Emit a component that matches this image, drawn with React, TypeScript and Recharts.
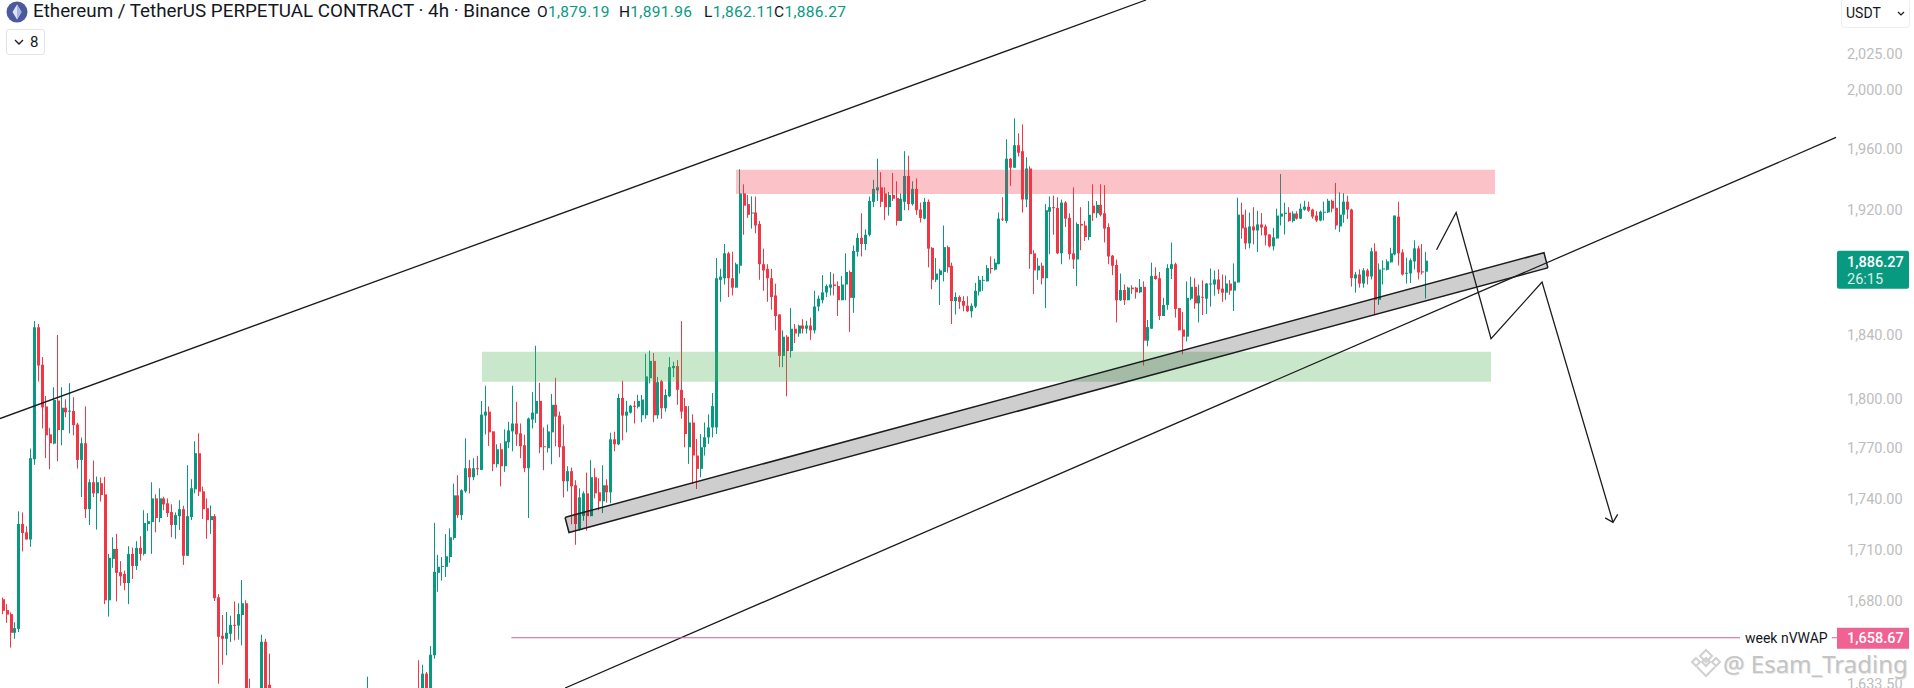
import {
	Area,
	Bar,
	ComposedChart,
	Line,
	ReferenceArea,
	ReferenceLine,
	XAxis,
	YAxis,
} from "recharts";

const GREEN = "#089981";
const RED = "#f23645";
const INK = "#1c1c20";

const opens = [
	1680.6, 1674.4, 1672.1, 1661.5, 1663.7, 1724.3, 1719.4, 1715.2, 1762.8, 1843.9,
	1820.5, 1794.8, 1777.8, 1772.2, 1798.4, 1780.4, 1794, 1791.8, 1792, 1783.8,
	1762.4, 1772.4, 1733, 1749, 1742.4, 1748.4, 1741.8, 1680, 1703.9, 1709.7,
	1696.2, 1695.2, 1689.9, 1706.8, 1699.8, 1710.3, 1706.8, 1724.3, 1725.4, 1739.4,
	1727.8, 1739.4, 1736.5, 1731.3, 1723.7, 1728.9, 1733, 1705.7, 1728.4, 1744.8,
	1766.4, 1743.6, 1733.6, 1726.6, 1728.9, 1681.7, 1659.8, 1658.1, 1660.9, 1666,
	1665.6, 1671.6, 1678.3, 1628, null, null, 1625, 1656.4, 1632.3,
	null, null, null, null, null, null, null, null, null, null, null, null,
	null, null, null, null, null, null, null, null, null, null, null, null,
	1620,
	null, null, null, null, null, null, null, null, null, null, null, null,
	1625, 1620, 1638.5, 1622,
	1648.8, 1695.8, 1699.3, 1699.3, 1705, 1716.1, 1741.2, 1729.5, 1743.6, 1757.4,
	1752, 1757.4, 1756.4, 1789.2, 1791.6, 1779.6, 1759.8, 1768.8, 1758.6, 1773,
	1779.6, 1784.4, 1778.4, 1771.2, 1757.4, 1786.8, 1790.4, 1798.2, 1770.6, 1769.4,
	1779, 1795.8, 1789.2, 1770.6, 1749.6, 1755.6, 1747.2, 1721.4, 1729.1, 1742.4,
	1728.9, 1752, 1743, 1737.7, 1747.2, 1743, 1774.8, 1771.8, 1800, 1789.2,
	1791, 1795.2, 1794.6, 1789.4, 1789.4, 1812.2, 1822.9, 1789.4, 1810.3, 1793.7,
	1801.1, 1818.4, 1819.7, 1805, 1795, 1770, 1785, 1765, 1757, 1770,
	1776, 1782, 1782, 1874, 1875, 1891, 1875, 1869, 1883, 1930,
	1923, 1917, 1917.5, 1910, 1884, 1881, 1875, 1864, 1852, 1826,
	1838, 1829, 1843, 1840, 1845, 1843, 1845, 1842, 1857, 1861,
	1866, 1869, 1871, 1870, 1861, 1871, 1879, 1862.5, 1892, 1901,
	1897, 1903, 1924.5, 1932, 1934, 1930, 1921, 1929, 1927, 1912,
	1924.5, 1941.5, 1923, 1933, 1919.5, 1913.5, 1924.5, 1894.5, 1874, 1877,
	1879, 1895, 1883, 1860.5, 1863, 1860.5, 1857.5, 1854, 1857, 1866.5,
	1873.5, 1873, 1881.5, 1880.5, 1884, 1913.5, 1912, 1953, 1947, 1962,
	1958, 1926, 1946.5, 1891, 1880, 1883, 1875, 1918, 1921, 1920.5,
	1891, 1924, 1914, 1891, 1887, 1910, 1909, 1901.5, 1922, 1917,
	1922.5, 1917, 1908, 1889.5, 1883.5, 1861, 1867.5, 1861, 1869, 1869,
	1866, 1869.5, 1835.5, 1843, 1876.5, 1875, 1851, 1858, 1881, 1884,
	1856, 1842.5, 1838, 1862, 1869.5, 1859, 1863.2, 1862, 1871.2, 1871,
	1874.2, 1868.4, 1865.8, 1871.6, 1867.1, 1872.3, 1916.1, 1907.7, 1897.4, 1908.4,
	1905.8, 1909.7, 1908.4, 1903.2, 1895.5, 1900.6, 1914.8, 1916.6, 1917.4, 1912,
	1916.8, 1913.5, 1919.4, 1921.3, 1919.4, 1915.5, 1912.3, 1917.6, 1917.6, 1925.2,
	1920.6, 1908.4, 1916.1, 1924.6, 1919.4, 1874.9, 1877.4, 1871.6, 1880, 1876.1,
	1892.3, 1861.3, 1880.6, 1880.4, 1885.2, 1890.3, 1914.8, 1891.6, 1878.1, 1878.1,
	1885.8, 1894.2, 1879.4, 1879.19,
];

const highs = [
	1681.6, 1677.8, 1673.1, 1667.5, 1731.7, 1731.1, 1722.9, 1769.2, 1847.8, 1846,
	1825.3, 1801.2, 1781.8, 1806.6, 1839.1, 1806.6, 1799.2, 1809.1, 1800.4, 1784.8,
	1775.8, 1794.8, 1750.8, 1762, 1752.4, 1751.8, 1752.2, 1706.8, 1716.5, 1718.5,
	1702.6, 1697.1, 1711.3, 1710.5, 1714.2, 1717.1, 1732.4, 1730.7, 1749, 1741.8,
	1745.4, 1740.4, 1739.4, 1735.9, 1731.1, 1738.3, 1735, 1759.2, 1750.8, 1773.6,
	1778.4, 1746.4, 1739.4, 1735.2, 1730.1, 1683.5, 1671.6, 1673.3, 1671.2, 1679.3,
	1678.3, 1691.7, 1680, 1635.7, null, null, 1660.4, 1658.1, 1649.7,
	null, null, null, null, null, null, null, null, null, null, null, null,
	null, null, null, null, null, null, null, null, null, null, null, null,
	1636.8,
	null, null, null, null, null, null, null, null, null, null, null, null,
	1646, 1643.5, 1639.4, 1654,
	1724.9, 1706.2, 1704.9, 1718.4, 1721.7, 1748.2, 1753.2, 1744.8, 1775.4, 1762.4,
	1763.4, 1764.8, 1798.2, 1807.5, 1794.8, 1779.6, 1771.8, 1772.4, 1780.8, 1785.4,
	1807.5, 1797.6, 1784.4, 1777.6, 1788, 1803.7, 1832.3, 1809.3, 1782, 1783.8,
	1802.5, 1812.4, 1791.6, 1783.8, 1758.6, 1757.8, 1750.2, 1745.4, 1743.6, 1754.8,
	1762.2, 1757.4, 1751.4, 1759.2, 1750.8, 1778.8, 1779.4, 1802.5, 1810.6, 1798.2,
	1795.8, 1798.2, 1801.9, 1801.8, 1827.3, 1829.3, 1827.8, 1812.9, 1811.2, 1805.4,
	1825.2, 1822.4, 1823.5, 1847.8, 1800, 1795, 1790, 1775, 1778, 1785,
	1790, 1803, 1888, 1881, 1897, 1892, 1892, 1885, 1946, 1936,
	1929, 1928, 1928, 1912, 1894, 1884, 1881, 1871.5, 1852, 1842,
	1839, 1856, 1846, 1845.5, 1849, 1848, 1850, 1867, 1864, 1877,
	1871, 1879, 1878, 1873, 1876.5, 1891, 1880, 1896, 1904, 1917,
	1906.5, 1928, 1939, 1953, 1944, 1934, 1931, 1943.5, 1938, 1930,
	1958, 1955, 1938, 1940, 1924, 1927, 1926, 1895, 1888, 1881,
	1909, 1896, 1885, 1866, 1864, 1863.5, 1863.5, 1859, 1872, 1876.5,
	1876.5, 1883.5, 1889, 1887.5, 1917.5, 1927.5, 1966, 1953.5, 1980, 1970,
	1976, 1954, 1948, 1893, 1888, 1885, 1923, 1928, 1928.5, 1927.5,
	1926, 1925, 1917, 1934, 1911, 1921, 1912, 1925, 1936, 1925,
	1936, 1935.5, 1910.5, 1890, 1887, 1878, 1871, 1869.5, 1870.5, 1869.5,
	1874.5, 1873, 1848.5, 1885, 1882, 1879, 1862.5, 1884, 1898, 1885,
	1856, 1853.5, 1873, 1876, 1875, 1871, 1873.6, 1872, 1881.3, 1880,
	1880.7, 1877.4, 1876.8, 1873.8, 1884.5, 1927.2, 1923.9, 1919.4, 1917.4, 1921,
	1918.7, 1917.2, 1909.7, 1903.2, 1907.5, 1920, 1942.8, 1923.9, 1921, 1918.3,
	1918.3, 1923.3, 1925.2, 1924.6, 1920, 1918.3, 1918.7, 1924.6, 1926.5, 1925.9,
	1936.9, 1930.8, 1930.2, 1928.5, 1920, 1879.1, 1880.7, 1881.5, 1881.1, 1894.6,
	1897.4, 1884.5, 1886.5, 1887.1, 1894.6, 1915.5, 1924.6, 1893.6, 1888.2, 1887.7,
	1899.4, 1895.9, 1897, 1891.96,
];

const lows = [
	1672.1, 1667.1, 1653.1, 1658.1, 1661.9, 1708.2, 1715.2, 1710.9, 1759.4, 1810.1,
	1781.4, 1763.4, 1756.8, 1771.8, 1761.6, 1771.2, 1788.2, 1778.4, 1777.2, 1757.2,
	1740.2, 1727.8, 1723.7, 1740.2, 1721, 1737.5, 1677.8, 1670.7, 1698.7, 1679.4,
	1688.4, 1685.8, 1677.8, 1692.2, 1697.5, 1702.9, 1705.9, 1720.2, 1706.8, 1719.4,
	1725.3, 1732.4, 1728.4, 1716.5, 1715.6, 1720.8, 1700.4, 1705.7, 1726.6, 1742.4,
	1740.8, 1727.2, 1715.6, 1718.5, 1679.6, 1632.9, 1643.5, 1648.8, 1656.3, 1657.2,
	1657.6, 1654.4, 1610, 1610, null, null, 1615, 1615, 1610,
	null, null, null, null, null, null, null, null, null, null, null, null,
	null, null, null, null, null, null, null, null, null, null, null, null,
	1612,
	null, null, null, null, null, null, null, null, null, null, null, null,
	1610, 1615, 1615, 1615,
	1646.9, 1684.9, 1691.3, 1693.4, 1701.6, 1715, 1727.8, 1726.6, 1742.8, 1742.4,
	1750.2, 1753.2, 1756.2, 1777.8, 1770.8, 1755.6, 1757.8, 1746.6, 1755.2, 1769.4,
	1767.6, 1770.8, 1763.4, 1755, 1727.8, 1781.4, 1784.8, 1766.4, 1756.2, 1766.8,
	1759.8, 1770.6, 1764, 1740, 1743.6, 1724.1, 1712.1, 1720.4, 1726.2, 1720.4,
	1728.9, 1739.4, 1732.4, 1730.7, 1736.9, 1736.5, 1767.6, 1771.2, 1774.2, 1779,
	1790.4, 1784.4, 1793.6, 1785.2, 1787.3, 1809, 1785.2, 1787.3, 1787.3, 1791.6,
	1800.5, 1812.9, 1795.8, 1787.3, 1770, 1760, 1748, 1745, 1752, 1765,
	1772, 1776, 1778, 1860, 1871, 1863, 1864, 1869, 1878, 1903,
	1914, 1907, 1904, 1874, 1867, 1860, 1855, 1842, 1819, 1819,
	1801, 1825, 1834, 1838, 1840, 1840, 1836, 1840, 1854, 1859,
	1863, 1864, 1864, 1851, 1861, 1861, 1841, 1853, 1889, 1889,
	1893, 1902, 1921, 1925, 1921, 1912.5, 1915.5, 1925, 1909, 1912,
	1919, 1919, 1922, 1916, 1911, 1913, 1882, 1868, 1872.5, 1858,
	1873, 1878.5, 1846, 1852, 1855.5, 1854, 1853.5, 1850, 1856, 1864,
	1867, 1873, 1878, 1880, 1884, 1912, 1910.5, 1935, 1947, 1954.5,
	1917.5, 1921, 1881, 1865, 1874, 1871, 1856, 1890.5, 1903, 1890.5,
	1884, 1908, 1887, 1881, 1870, 1893, 1899, 1899.5, 1912, 1914,
	1915, 1898, 1884, 1877, 1847, 1860.5, 1858, 1861, 1865, 1862,
	1865.5, 1820, 1832, 1843, 1874, 1848.5, 1851, 1855, 1874.5, 1850,
	1842, 1827, 1835, 1861, 1855.5, 1847, 1851.6, 1852.3, 1857, 1863.9,
	1865, 1860, 1861.3, 1864.5, 1854.2, 1872.3, 1900.4, 1893.6, 1894.2, 1896.8,
	1891.8, 1902.6, 1896.1, 1894.8, 1892.9, 1900.6, 1909, 1903.2, 1911.4, 1911,
	1912.9, 1913.3, 1918.7, 1918, 1913.5, 1911.2, 1911.8, 1912.3, 1917.2, 1917.6,
	1906.4, 1904.7, 1910.8, 1913.3, 1869.7, 1865.8, 1869, 1869, 1871, 1874.2,
	1851.6, 1858.1, 1871, 1880, 1885, 1889.7, 1883.2, 1876.8, 1871.6, 1872,
	1880.6, 1874.2, 1877.4, 1862.11,
];

const closes = [
	1674, 1671.8, 1661.5, 1664.1, 1724.3, 1719, 1715.2, 1763.4, 1843.9, 1820,
	1794.2, 1777.2, 1772.4, 1798.8, 1780.4, 1794, 1791.2, 1792.2, 1783.4, 1762.4,
	1772.4, 1733, 1749, 1742.4, 1749, 1741.4, 1680, 1704.5, 1709.7, 1695.8,
	1693.8, 1689.9, 1706.8, 1699.8, 1710.3, 1706.8, 1724.9, 1726, 1739.4, 1727.8,
	1739.4, 1735.9, 1730.7, 1723.7, 1729.5, 1733, 1705.7, 1728.9, 1745.4, 1766.4,
	1743.4, 1733, 1726.6, 1728.9, 1681.2, 1659.2, 1658.1, 1661.5, 1666, 1665.6,
	1672.1, 1678.3, 1620, 1615, null, null, 1656.4, 1622, 1618,
	null, null, null, null, null, null, null, null, null, null, null, null,
	null, null, null, null, null, null, null, null, null, null, null, null,
	1628,
	null, null, null, null, null, null, null, null, null, null, null, null,
	1615, 1638.5, 1622, 1649.1,
	1696.4, 1699.3, 1699.8, 1705.4, 1716.5, 1741.2, 1729.5, 1744.2, 1757.4, 1752,
	1757.4, 1757, 1789.8, 1791.6, 1779, 1759.8, 1768.8, 1758.6, 1773.6, 1780.2,
	1784.4, 1777.8, 1770.6, 1757.4, 1787.4, 1791, 1798.2, 1770, 1770, 1779.6,
	1795.8, 1788.6, 1770, 1749.6, 1755.6, 1746.6, 1724.3, 1740, 1742.4, 1728.9,
	1752, 1742.4, 1737.7, 1747.2, 1743, 1774.8, 1771.8, 1800, 1789.2, 1791.6,
	1795.2, 1794.6, 1798.2, 1799, 1813.3, 1822.9, 1789.4, 1809.7, 1793.7, 1801.8,
	1819, 1819.7, 1805, 1791.6, 1778, 1785, 1765, 1757, 1770, 1776,
	1782, 1795, 1875, 1876, 1891, 1875, 1869, 1884, 1930, 1922,
	1916, 1917.5, 1909, 1884, 1880, 1875, 1863, 1851, 1826, 1838,
	1829, 1843, 1840, 1845, 1843, 1845, 1842, 1857, 1862, 1866,
	1870, 1871, 1870, 1861, 1871, 1879, 1862.5, 1892.5, 1901, 1897,
	1903, 1925, 1933, 1934, 1924.5, 1921, 1929, 1926.5, 1912, 1926.5,
	1941.5, 1923, 1933, 1919, 1914, 1924.5, 1894, 1874, 1878, 1880,
	1895, 1882, 1860.5, 1863, 1860, 1857.5, 1854, 1857.5, 1867, 1874,
	1874, 1881.5, 1881, 1885, 1913.5, 1913, 1953, 1947, 1962, 1957,
	1926, 1946.5, 1890.5, 1880, 1883, 1875, 1919, 1921, 1920.5, 1891,
	1924, 1913.5, 1890.5, 1887, 1910, 1909, 1901.5, 1916, 1917, 1922.5,
	1916, 1907, 1889, 1883, 1861, 1867.5, 1861, 1869, 1868, 1866,
	1869.5, 1835.5, 1844, 1876.5, 1874.5, 1851, 1858, 1881.5, 1884, 1855.5,
	1842, 1838, 1862.5, 1869.5, 1859, 1864, 1862.8, 1871.6, 1871.6, 1874.2,
	1867.8, 1865.8, 1871.6, 1867.1, 1872.9, 1916.1, 1907.1, 1897.4, 1908.4, 1905.8,
	1909.7, 1907.7, 1902.6, 1895.5, 1901.3, 1915.5, 1916.8, 1917.4, 1912, 1916.8,
	1913.5, 1920, 1921.3, 1918.7, 1914.8, 1912.3, 1918, 1918, 1925.2, 1920,
	1909, 1916.1, 1924.6, 1919.4, 1875.1, 1877.4, 1871.6, 1880, 1876.1, 1892.3,
	1861.3, 1880.6, 1881.3, 1885.8, 1891, 1915.5, 1891, 1877.4, 1878.5, 1886.5,
	1894.2, 1878.7, 1878.7, 1886.27,
];

const priceTicks = [2025, 2000, 1960, 1920, 1840, 1800, 1770, 1740, 1710, 1680, 1633.5];

const bandIdx = [143.3, 144.3, 393, 394];
const bandUpper = [1728.1, 1728.8, 1891.4, 1881.7];
const bandLower = [1728.1, 1719.3, 1881, 1881.7];

const zigzagIdx = [365.6, 370.6, 379.5, 392.5, 410.6];
const zigzagPrice = [1893.3, 1917.5, 1836.8, 1872.5, 1725.3];

const arrowIdx = [408.6, 410.6, 411.8];
const arrowPrice = [1727.9, 1725.3, 1729.9];

const candles = closes.map((close, i) => {
	const open = opens[i];
	if (close === null || open === null) {
		return { i, wick: null, body: null, up: true };
	}
	return {
		i,
		wick: [lows[i], highs[i]],
		body: [Math.min(open, close), Math.max(open, close)],
		up: close >= open,
	};
});

const bandRows = bandIdx.map((i, n) => ({ i, band: [bandLower[n], bandUpper[n]] }));
const zigzagRows = zigzagIdx.map((i, n) => ({ i, price: zigzagPrice[n] }));
const arrowRows = arrowIdx.map((i, n) => ({ i, price: arrowPrice[n] }));

const formatPrice = (v: number) =>
	v.toLocaleString("en-US", { minimumFractionDigits: 2, maximumFractionDigits: 2 });

// snaps each bar to the pixel grid so wicks and bodies stay crisp and share a centre
const candlePart = (thickness: number) => (props: any) => {
	const { x, y, width, height, payload } = props;
	const left = Math.round(x + width / 2 - thickness / 2);
	const top = Math.min(y, y + height);
	return (
		<rect
			x={left}
			y={top}
			width={thickness}
			height={Math.max(Math.abs(height), 1)}
			fill={payload.up ? GREEN : RED}
		/>
	);
};

function CurrentPriceTag({ viewBox }: any) {
	const right = viewBox.x + viewBox.width;
	return (
		<g fontFamily="Roboto, sans-serif">
			<rect x={right - 1} y={viewBox.y - 10} width={72} height={38} rx={2} fill={GREEN} />
			<text x={right + 9} y={viewBox.y + 6} fill="#fff" fontSize={14.5} fontWeight={500}>
				1,886.27
			</text>
			<text x={right + 9} y={viewBox.y + 23} fill="#d8efe9" fontSize={14.5}>
				26:15
			</text>
		</g>
	);
}

function VwapTag({ viewBox }: any) {
	const right = viewBox.x + viewBox.width;
	return (
		<g fontFamily="Roboto, sans-serif">
			<text x={right - 93} y={viewBox.y + 5} fill="#131722" fontSize={14}>
				week nVWAP
			</text>
			<line x1={right - 6} x2={right - 1} y1={viewBox.y} y2={viewBox.y} stroke="#d0609a" />
			<rect x={right - 1} y={viewBox.y - 10} width={72} height={21} fill="#f06292" />
			<text x={right + 9} y={viewBox.y + 5} fill="#fff" fontSize={14.5} fontWeight={500}>
				1,658.67
			</text>
		</g>
	);
}

function Header() {
	const values = [
		{ left: 537, tag: "O", value: "1,879.19" },
		{ left: 619, tag: "H", value: "1,891.96" },
		{ left: 704, tag: "L", value: "1,862.11" },
		{ left: 774, tag: "C", value: "1,886.27" },
	];
	return (
		<>
			<svg
				width={22}
				height={22}
				viewBox="0 0 22 22"
				style={{ position: "absolute", left: 6, top: 1 }}
			>
				<circle cx={11} cy={11} r={10.5} fill="#4a5a9c" />
				<path d="M11 3.5 L15.5 11 L11 18.5 L6.5 11 Z" fill="#dfe4f5" />
				<path d="M11 3.5 L11 18.5 L15.5 11 Z" fill="#aab4e0" />
			</svg>
			<div
				style={{
					position: "absolute",
					left: 33,
					top: 0,
					fontFamily: "Roboto, sans-serif",
					fontSize: 18.8,
					lineHeight: "23px",
					color: "#131722",
					whiteSpace: "nowrap",
				}}
			>
				Ethereum / TetherUS PERPETUAL CONTRACT · 4h · Binance
			</div>
			{values.map((v) => (
				<div
					key={v.tag}
					style={{
						position: "absolute",
						left: v.left,
						top: 2,
						fontFamily: "Roboto, sans-serif",
						fontSize: 15.5,
						lineHeight: "20px",
						letterSpacing: 0.3,
						color: GREEN,
						whiteSpace: "nowrap",
					}}
				>
					<span style={{ color: "#131722" }}>{v.tag}</span>
					{v.value}
				</div>
			))}
			<div
				style={{
					position: "absolute",
					left: 6,
					top: 29,
					width: 37,
					height: 24,
					border: "1px solid #e0e3eb",
					borderRadius: 3,
					fontFamily: "Roboto, sans-serif",
					fontSize: 15,
					lineHeight: "24px",
					color: "#131722",
				}}
			>
				<svg
					width={10}
					height={6}
					viewBox="0 0 10 6"
					style={{ position: "absolute", left: 7, top: 9 }}
				>
					<path d="M1 1 L5 5 L9 1" fill="none" stroke="#131722" strokeWidth={1.3} />
				</svg>
				<span style={{ position: "absolute", left: 23 }}>8</span>
			</div>
			<div
				style={{
					position: "absolute",
					left: 1841,
					top: -2,
					width: 67,
					height: 28,
					border: "1px solid #eceef2",
					borderRadius: 4,
					fontFamily: "Roboto, sans-serif",
					fontSize: 14,
					lineHeight: "28px",
					color: "#131722",
				}}
			>
				<span style={{ position: "absolute", left: 4 }}>USDT</span>
				<svg
					width={8}
					height={5}
					viewBox="0 0 8 5"
					style={{ position: "absolute", left: 55, top: 12 }}
				>
					<path d="M1 1 L4 4 L7 1" fill="none" stroke="#131722" strokeWidth={1.2} />
				</svg>
			</div>
		</>
	);
}

function Watermark() {
	return (
		<>
			<svg
				width={32}
				height={30}
				viewBox="0 0 32 30"
				style={{ position: "absolute", left: 1690, top: 648 }}
			>
				<g fill="none" stroke="#d0d0d0" strokeWidth={2}>
					<path d="M16 2 L22 8 L16 14 L10 8 Z" />
					<path d="M6 10 L10 14 L6 18 L2 14 Z" />
					<path d="M26 10 L30 14 L26 18 L22 14 Z" />
					<path d="M16 10 L20 14 L16 18 L12 14 Z" />
					<path d="M7 19 L16 28 L25 19" />
				</g>
			</svg>
			<div
				style={{
					position: "absolute",
					left: 1723,
					top: 648,
					fontFamily: "'Noto Sans', sans-serif",
					fontSize: 24,
					lineHeight: "32px",
					color: "#c4c4c4",
					textShadow: "1px 1px 0 #e8e8e8",
					whiteSpace: "nowrap",
				}}
			>
				@ Esam_Trading
			</div>
		</>
	);
}

export default function App() {
	return (
		<div
			style={{
				position: "absolute",
				left: 0,
				top: 0,
				width: 1914,
				height: 688,
				overflow: "hidden",
				background: "#fff",
			}}
		>
			<ComposedChart
				width={1914}
				height={688}
				data={candles}
				margin={{ top: 0, right: 0, bottom: 0, left: 0 }}
			>
				<XAxis
					xAxisId="wick"
					dataKey="i"
					type="number"
					domain={[-0.84, 468]}
					allowDataOverflow
					hide
				/>
				<XAxis
					xAxisId="body"
					dataKey="i"
					type="number"
					domain={[-0.84, 468]}
					allowDataOverflow
					hide
				/>
				<YAxis
					orientation="right"
					width={76}
					scale="log"
					domain={[1630.5, 2061.6]}
					allowDataOverflow
					ticks={priceTicks}
					interval={0}
					axisLine={false}
					tickLine={false}
					tickMargin={3}
					tickFormatter={formatPrice}
					tick={{ fill: "#bdbdbd", fontSize: 14.5, dy: 1, fontFamily: "Roboto, sans-serif" }}
				/>
				<Bar
					xAxisId="wick"
					dataKey="wick"
					barSize={1}
					shape={candlePart(1)}
					isAnimationActive={false}
				/>
				<Bar
					xAxisId="body"
					dataKey="body"
					barSize={3}
					shape={candlePart(3)}
					isAnimationActive={false}
				/>
				<ReferenceArea
					xAxisId="body"
					x1={186.9}
					x2={380.5}
					y1={1929.7}
					y2={1945.6}
					fill={RED}
					fillOpacity={0.3}
					stroke="none"
					zIndex={600}
				/>
				<ReferenceArea
					xAxisId="body"
					x1={122.1}
					x2={379.5}
					y1={1810}
					y2={1828.6}
					fill="#4caf50"
					fillOpacity={0.3}
					stroke="none"
					zIndex={600}
				/>
				<Area
					xAxisId="body"
					data={bandRows}
					dataKey="band"
					type="linear"
					stroke={INK}
					strokeWidth={1.5}
					fill="#2a2a2a"
					fillOpacity={0.23}
					dot={false}
					activeDot={false}
					isAnimationActive={false}
					zIndex={650}
				/>
				<Line
					xAxisId="body"
					data={zigzagRows}
					dataKey="price"
					type="linear"
					stroke={INK}
					strokeWidth={1.3}
					dot={false}
					activeDot={false}
					isAnimationActive={false}
					zIndex={700}
				/>
				<Line
					xAxisId="body"
					data={arrowRows}
					dataKey="price"
					type="linear"
					stroke={INK}
					strokeWidth={1.3}
					dot={false}
					activeDot={false}
					isAnimationActive={false}
					zIndex={700}
				/>
				<ReferenceLine
					xAxisId="body"
					segment={[
						{ x: -0.84, y: 1787.4 },
						{ x: 291.5, y: 2061.6 },
					]}
					stroke={INK}
					strokeWidth={1.3}
					ifOverflow="visible"
					zIndex={700}
				/>
				<ReferenceLine
					xAxisId="body"
					segment={[
						{ x: 143.3, y: 1630.5 },
						{ x: 467.5, y: 1967.2 },
					]}
					stroke={INK}
					strokeWidth={1.3}
					ifOverflow="visible"
					zIndex={700}
				/>
				<ReferenceLine
					xAxisId="body"
					segment={[
						{ x: 129.6, y: 1658.67 },
						{ x: 443, y: 1658.67 },
					]}
					stroke="#d0609a"
					strokeWidth={1}
					ifOverflow="visible"
					zIndex={700}
				/>
				<ReferenceLine
					xAxisId="body"
					y={1658.67}
					stroke="none"
					label={VwapTag}
					zIndex={800}
				/>
				<ReferenceLine
					xAxisId="body"
					y={1886.27}
					stroke="none"
					label={CurrentPriceTag}
					zIndex={800}
				/>
			</ComposedChart>
			<Header />
			<Watermark />
		</div>
	);
}
